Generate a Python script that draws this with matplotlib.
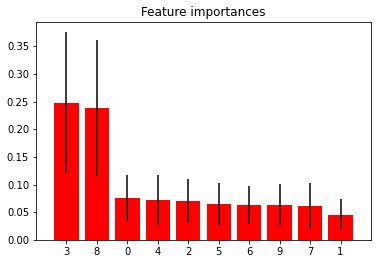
import matplotlib
matplotlib.use("Agg")
import matplotlib.pyplot as plt

labels = ["3", "8", "0", "4", "2", "5", "6", "9", "7", "1"]
importances = [0.2485, 0.2394, 0.0762, 0.0725, 0.0707, 0.0653, 0.0635, 0.0635, 0.0617, 0.0453]
stds = [0.127, 0.123, 0.042, 0.045, 0.040, 0.038, 0.035, 0.038, 0.042, 0.028]

fig = plt.figure(figsize=(378 / 72, 264 / 72), dpi=72)
ax = fig.add_axes([36 / 378, 1 - 240 / 264, (371 - 36) / 378, (240 - 22) / 264])
x = list(range(len(labels)))
ax.bar(x, importances, color="r", yerr=stds, align="center")
ax.set_xticks(x)
ax.set_xticklabels(labels)
ax.set_xlim([-1, len(labels)])
ax.set_title("Feature importances")
fig.savefig("out.png", dpi=72)
